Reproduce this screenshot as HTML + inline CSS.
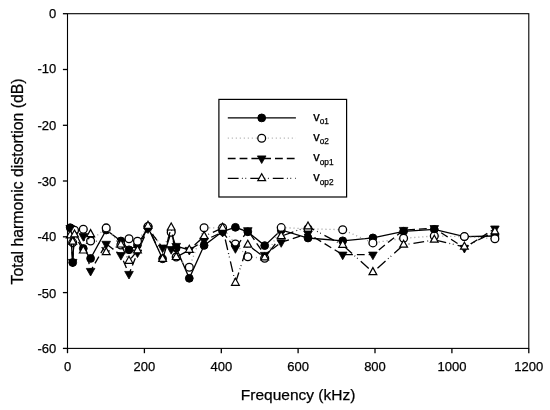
<!DOCTYPE html><html><head><meta charset="utf-8"><title>Total harmonic distortion</title>
<style>html,body{margin:0;padding:0;background:#fff}body{width:550px;height:410px;overflow:hidden}svg{display:block}text{font-family:"Liberation Sans",sans-serif;fill:#000;stroke:#000;stroke-width:0.25px}</style></head><body>
<svg width="550" height="410" viewBox="0 0 550 410">
<rect width="550" height="410" fill="#fff"/>
<polyline points="70.2,227.7 72.7,262.5 74.5,231.0 83.3,248.5 90.6,258.4 106.2,230.0 120.9,241.0 129.0,249.8 137.5,245.0 148.0,227.5 162.6,258.8 171.2,232.0 176.2,248.0 189.3,278.3 204.1,245.4 222.6,231.5 235.4,227.3 247.8,231.8 264.7,245.6 281.2,230.0 308.0,238.0 342.7,240.8 372.9,237.9 403.6,231.3 434.3,229.4 464.4,236.6 494.9,236.0" fill="none" stroke="#000" stroke-width="1.3" />
<circle cx="70.2" cy="227.7" r="3.9" fill="#000" stroke="#000" stroke-width="1"/><circle cx="72.7" cy="262.5" r="3.9" fill="#000" stroke="#000" stroke-width="1"/><circle cx="74.5" cy="231.0" r="3.9" fill="#000" stroke="#000" stroke-width="1"/><circle cx="83.3" cy="248.5" r="3.9" fill="#000" stroke="#000" stroke-width="1"/><circle cx="90.6" cy="258.4" r="3.9" fill="#000" stroke="#000" stroke-width="1"/><circle cx="106.2" cy="230.0" r="3.9" fill="#000" stroke="#000" stroke-width="1"/><circle cx="120.9" cy="241.0" r="3.9" fill="#000" stroke="#000" stroke-width="1"/><circle cx="129.0" cy="249.8" r="3.9" fill="#000" stroke="#000" stroke-width="1"/><circle cx="137.5" cy="245.0" r="3.9" fill="#000" stroke="#000" stroke-width="1"/><circle cx="148.0" cy="227.5" r="3.9" fill="#000" stroke="#000" stroke-width="1"/><circle cx="162.6" cy="258.8" r="3.9" fill="#000" stroke="#000" stroke-width="1"/><circle cx="171.2" cy="232.0" r="3.9" fill="#000" stroke="#000" stroke-width="1"/><circle cx="176.2" cy="248.0" r="3.9" fill="#000" stroke="#000" stroke-width="1"/><circle cx="189.3" cy="278.3" r="3.9" fill="#000" stroke="#000" stroke-width="1"/><circle cx="204.1" cy="245.4" r="3.9" fill="#000" stroke="#000" stroke-width="1"/><circle cx="222.6" cy="231.5" r="3.9" fill="#000" stroke="#000" stroke-width="1"/><circle cx="235.4" cy="227.3" r="3.9" fill="#000" stroke="#000" stroke-width="1"/><circle cx="247.8" cy="231.8" r="3.9" fill="#000" stroke="#000" stroke-width="1"/><circle cx="264.7" cy="245.6" r="3.9" fill="#000" stroke="#000" stroke-width="1"/><circle cx="281.2" cy="230.0" r="3.9" fill="#000" stroke="#000" stroke-width="1"/><circle cx="308.0" cy="238.0" r="3.9" fill="#000" stroke="#000" stroke-width="1"/><circle cx="342.7" cy="240.8" r="3.9" fill="#000" stroke="#000" stroke-width="1"/><circle cx="372.9" cy="237.9" r="3.9" fill="#000" stroke="#000" stroke-width="1"/><circle cx="403.6" cy="231.3" r="3.9" fill="#000" stroke="#000" stroke-width="1"/><circle cx="434.3" cy="229.4" r="3.9" fill="#000" stroke="#000" stroke-width="1"/><circle cx="464.4" cy="236.6" r="3.9" fill="#000" stroke="#000" stroke-width="1"/><circle cx="494.9" cy="236.0" r="3.9" fill="#000" stroke="#000" stroke-width="1"/>
<polyline points="72.7,242.6 74.5,230.3 83.3,229.3 90.6,241.0 106.2,227.9 120.9,245.0 129.0,238.8 137.5,241.2 148.0,226.5 162.6,248.0 171.2,232.3 176.2,257.0 189.3,267.2 204.1,227.8 222.6,227.8 235.4,244.0 247.8,256.8 264.7,258.3 281.2,227.6 308.0,228.8 342.7,229.7 372.9,242.9 403.6,238.3 434.3,236.0 464.4,236.6 494.9,238.8" fill="none" stroke="#999" stroke-width="1.3" stroke-dasharray="1 3"/>
<circle cx="72.7" cy="242.6" r="3.9" fill="#fff" stroke="#000" stroke-width="1.3"/><circle cx="74.5" cy="230.3" r="3.9" fill="#fff" stroke="#000" stroke-width="1.3"/><circle cx="83.3" cy="229.3" r="3.9" fill="#fff" stroke="#000" stroke-width="1.3"/><circle cx="90.6" cy="241.0" r="3.9" fill="#fff" stroke="#000" stroke-width="1.3"/><circle cx="106.2" cy="227.9" r="3.9" fill="#fff" stroke="#000" stroke-width="1.3"/><circle cx="120.9" cy="245.0" r="3.9" fill="#fff" stroke="#000" stroke-width="1.3"/><circle cx="129.0" cy="238.8" r="3.9" fill="#fff" stroke="#000" stroke-width="1.3"/><circle cx="137.5" cy="241.2" r="3.9" fill="#fff" stroke="#000" stroke-width="1.3"/><circle cx="148.0" cy="226.5" r="3.9" fill="#fff" stroke="#000" stroke-width="1.3"/><circle cx="171.2" cy="232.3" r="3.9" fill="#fff" stroke="#000" stroke-width="1.3"/><circle cx="176.2" cy="257.0" r="3.9" fill="#fff" stroke="#000" stroke-width="1.3"/><circle cx="189.3" cy="267.2" r="3.9" fill="#fff" stroke="#000" stroke-width="1.3"/><circle cx="204.1" cy="227.8" r="3.9" fill="#fff" stroke="#000" stroke-width="1.3"/><circle cx="222.6" cy="227.8" r="3.9" fill="#fff" stroke="#000" stroke-width="1.3"/><circle cx="235.4" cy="244.0" r="3.9" fill="#fff" stroke="#000" stroke-width="1.3"/><circle cx="247.8" cy="256.8" r="3.9" fill="#fff" stroke="#000" stroke-width="1.3"/><circle cx="264.7" cy="258.3" r="3.9" fill="#fff" stroke="#000" stroke-width="1.3"/><circle cx="281.2" cy="227.6" r="3.9" fill="#fff" stroke="#000" stroke-width="1.3"/><circle cx="308.0" cy="228.8" r="3.9" fill="#fff" stroke="#000" stroke-width="1.3"/><circle cx="342.7" cy="229.7" r="3.9" fill="#fff" stroke="#000" stroke-width="1.3"/><circle cx="372.9" cy="242.9" r="3.9" fill="#fff" stroke="#000" stroke-width="1.3"/><circle cx="403.6" cy="238.3" r="3.9" fill="#fff" stroke="#000" stroke-width="1.3"/><circle cx="434.3" cy="236.0" r="3.9" fill="#fff" stroke="#000" stroke-width="1.3"/><circle cx="464.4" cy="236.6" r="3.9" fill="#fff" stroke="#000" stroke-width="1.3"/><circle cx="494.9" cy="238.8" r="3.9" fill="#fff" stroke="#000" stroke-width="1.3"/>
<polyline points="70.2,228.2 72.7,262.0 74.5,232.0 83.3,236.2 90.6,271.0 106.2,243.9 120.9,255.1 129.0,274.0 137.5,252.6 148.0,228.5 162.6,247.7 171.2,249.2 176.2,246.0 189.3,250.0 204.1,240.6 222.6,232.0 235.4,248.3 247.8,230.3 264.7,255.0 281.2,242.3 308.0,233.6 342.7,254.7 372.9,254.7 403.6,230.0 434.3,228.2 464.4,248.0 494.9,228.6" fill="none" stroke="#000" stroke-width="1.3" stroke-dasharray="7.8 4"/>
<path d="M65.9 225.6H74.5L70.2 233.2Z" fill="#000" stroke="#000" stroke-width="0.8"/><path d="M68.4 259.4H77.0L72.7 267.0Z" fill="#000" stroke="#000" stroke-width="0.8"/><path d="M79.0 233.6H87.6L83.3 241.2Z" fill="#000" stroke="#000" stroke-width="0.8"/><path d="M86.3 268.4H94.9L90.6 276.0Z" fill="#000" stroke="#000" stroke-width="0.8"/><path d="M101.9 241.3H110.5L106.2 248.9Z" fill="#000" stroke="#000" stroke-width="0.8"/><path d="M116.6 252.5H125.2L120.9 260.1Z" fill="#000" stroke="#000" stroke-width="0.8"/><path d="M124.7 271.4H133.3L129.0 279.0Z" fill="#000" stroke="#000" stroke-width="0.8"/><path d="M133.2 250.0H141.8L137.5 257.6Z" fill="#000" stroke="#000" stroke-width="0.8"/><path d="M143.7 225.9H152.3L148.0 233.5Z" fill="#000" stroke="#000" stroke-width="0.8"/><path d="M158.3 245.1H166.9L162.6 252.7Z" fill="#000" stroke="#000" stroke-width="0.8"/><path d="M166.9 246.6H175.5L171.2 254.2Z" fill="#000" stroke="#000" stroke-width="0.8"/><path d="M171.9 243.4H180.5L176.2 251.0Z" fill="#000" stroke="#000" stroke-width="0.8"/><path d="M185.0 247.4H193.6L189.3 255.0Z" fill="#000" stroke="#000" stroke-width="0.8"/><path d="M199.8 238.0H208.4L204.1 245.6Z" fill="#000" stroke="#000" stroke-width="0.8"/><path d="M218.3 229.4H226.9L222.6 237.0Z" fill="#000" stroke="#000" stroke-width="0.8"/><path d="M231.1 245.7H239.7L235.4 253.3Z" fill="#000" stroke="#000" stroke-width="0.8"/><path d="M243.5 227.7H252.1L247.8 235.3Z" fill="#000" stroke="#000" stroke-width="0.8"/><path d="M260.4 252.4H269.0L264.7 260.0Z" fill="#000" stroke="#000" stroke-width="0.8"/><path d="M276.9 239.7H285.5L281.2 247.3Z" fill="#000" stroke="#000" stroke-width="0.8"/><path d="M303.7 231.0H312.3L308.0 238.6Z" fill="#000" stroke="#000" stroke-width="0.8"/><path d="M338.4 252.1H347.0L342.7 259.7Z" fill="#000" stroke="#000" stroke-width="0.8"/><path d="M368.6 252.1H377.2L372.9 259.7Z" fill="#000" stroke="#000" stroke-width="0.8"/><path d="M399.3 227.4H407.9L403.6 235.0Z" fill="#000" stroke="#000" stroke-width="0.8"/><path d="M430.0 225.6H438.6L434.3 233.2Z" fill="#000" stroke="#000" stroke-width="0.8"/><path d="M460.1 245.4H468.7L464.4 253.0Z" fill="#000" stroke="#000" stroke-width="0.8"/><path d="M490.6 226.0H499.2L494.9 233.6Z" fill="#000" stroke="#000" stroke-width="0.8"/>
<polyline points="70.2,235.5 72.7,241.8 74.5,234.6 83.3,250.7 90.6,234.3 106.2,252.4 120.9,244.7 129.0,261.0 137.5,250.5 148.0,226.0 162.6,259.0 171.2,227.7 176.2,257.2 189.3,250.0 204.1,236.3 222.6,228.0 235.4,283.0 247.8,244.9 264.7,257.6 281.2,236.2 308.0,226.6 342.7,245.0 372.9,272.3 403.6,244.9 434.3,239.9 464.4,246.9 494.9,231.6" fill="none" stroke="#000" stroke-width="1.3" stroke-dasharray="10.8 3.3 0.8 2.7 0.8 4.1"/>
<path d="M66.3 237.8H74.1L70.2 230.8Z" fill="#fff" stroke="#000" stroke-width="1.2"/><path d="M68.8 244.1H76.6L72.7 237.1Z" fill="#fff" stroke="#000" stroke-width="1.2"/><path d="M70.6 236.9H78.4L74.5 229.9Z" fill="#fff" stroke="#000" stroke-width="1.2"/><path d="M79.4 253.0H87.2L83.3 246.0Z" fill="#fff" stroke="#000" stroke-width="1.2"/><path d="M86.7 236.6H94.5L90.6 229.6Z" fill="#fff" stroke="#000" stroke-width="1.2"/><path d="M102.3 254.7H110.1L106.2 247.7Z" fill="#fff" stroke="#000" stroke-width="1.2"/><path d="M117.0 247.0H124.8L120.9 240.0Z" fill="#fff" stroke="#000" stroke-width="1.2"/><path d="M125.1 263.3H132.9L129.0 256.3Z" fill="#fff" stroke="#000" stroke-width="1.2"/><path d="M133.6 252.8H141.4L137.5 245.8Z" fill="#fff" stroke="#000" stroke-width="1.2"/><path d="M144.1 228.3H151.9L148.0 221.3Z" fill="#fff" stroke="#000" stroke-width="1.2"/><path d="M158.7 261.3H166.5L162.6 254.3Z" fill="#fff" stroke="#000" stroke-width="1.2"/><path d="M167.3 230.0H175.1L171.2 223.0Z" fill="#fff" stroke="#000" stroke-width="1.2"/><path d="M172.3 259.5H180.1L176.2 252.5Z" fill="#fff" stroke="#000" stroke-width="1.2"/><path d="M185.4 252.3H193.2L189.3 245.3Z" fill="#fff" stroke="#000" stroke-width="1.2"/><path d="M200.2 238.6H208.0L204.1 231.6Z" fill="#fff" stroke="#000" stroke-width="1.2"/><path d="M218.7 230.3H226.5L222.6 223.3Z" fill="#fff" stroke="#000" stroke-width="1.2"/><path d="M231.5 285.3H239.3L235.4 278.3Z" fill="#fff" stroke="#000" stroke-width="1.2"/><path d="M243.9 247.2H251.7L247.8 240.2Z" fill="#fff" stroke="#000" stroke-width="1.2"/><path d="M260.8 259.9H268.6L264.7 252.9Z" fill="#fff" stroke="#000" stroke-width="1.2"/><path d="M277.3 238.5H285.1L281.2 231.5Z" fill="#fff" stroke="#000" stroke-width="1.2"/><path d="M304.1 228.9H311.9L308.0 221.9Z" fill="#fff" stroke="#000" stroke-width="1.2"/><path d="M338.8 247.3H346.6L342.7 240.3Z" fill="#fff" stroke="#000" stroke-width="1.2"/><path d="M369.0 274.6H376.8L372.9 267.6Z" fill="#fff" stroke="#000" stroke-width="1.2"/><path d="M399.7 247.2H407.5L403.6 240.2Z" fill="#fff" stroke="#000" stroke-width="1.2"/><path d="M430.4 242.2H438.2L434.3 235.2Z" fill="#fff" stroke="#000" stroke-width="1.2"/><path d="M460.5 249.2H468.3L464.4 242.2Z" fill="#fff" stroke="#000" stroke-width="1.2"/><path d="M491.0 233.9H498.8L494.9 226.9Z" fill="#fff" stroke="#000" stroke-width="1.2"/>
<rect x="67.5" y="13.7" width="461.3" height="334.7" fill="none" stroke="#000" stroke-width="1.1"/>
<line x1="67.5" y1="348.4" x2="67.5" y2="353.2" stroke="#000" stroke-width="1.3"/>
<text x="67.5" y="371.3" font-size="13" text-anchor="middle">0</text>
<line x1="144.4" y1="348.4" x2="144.4" y2="353.2" stroke="#000" stroke-width="1.3"/>
<text x="144.4" y="371.3" font-size="13" text-anchor="middle">200</text>
<line x1="221.3" y1="348.4" x2="221.3" y2="353.2" stroke="#000" stroke-width="1.3"/>
<text x="221.3" y="371.3" font-size="13" text-anchor="middle">400</text>
<line x1="298.1" y1="348.4" x2="298.1" y2="353.2" stroke="#000" stroke-width="1.3"/>
<text x="298.1" y="371.3" font-size="13" text-anchor="middle">600</text>
<line x1="375.0" y1="348.4" x2="375.0" y2="353.2" stroke="#000" stroke-width="1.3"/>
<text x="375.0" y="371.3" font-size="13" text-anchor="middle">800</text>
<line x1="451.9" y1="348.4" x2="451.9" y2="353.2" stroke="#000" stroke-width="1.3"/>
<text x="451.9" y="371.3" font-size="13" text-anchor="middle">1000</text>
<line x1="528.8" y1="348.4" x2="528.8" y2="353.2" stroke="#000" stroke-width="1.3"/>
<text x="528.8" y="371.3" font-size="13" text-anchor="middle">1200</text>
<line x1="62.9" y1="13.7" x2="67.5" y2="13.7" stroke="#000" stroke-width="1.3"/>
<text x="56.3" y="17.6" font-size="13" text-anchor="end">0</text>
<line x1="62.9" y1="69.5" x2="67.5" y2="69.5" stroke="#000" stroke-width="1.3"/>
<text x="56.3" y="73.3" font-size="13" text-anchor="end">-10</text>
<line x1="62.9" y1="125.3" x2="67.5" y2="125.3" stroke="#000" stroke-width="1.3"/>
<text x="56.3" y="130.0" font-size="13" text-anchor="end">-20</text>
<line x1="62.9" y1="181.0" x2="67.5" y2="181.0" stroke="#000" stroke-width="1.3"/>
<text x="56.3" y="185.5" font-size="13" text-anchor="end">-30</text>
<line x1="62.9" y1="236.8" x2="67.5" y2="236.8" stroke="#000" stroke-width="1.3"/>
<text x="56.3" y="241.3" font-size="13" text-anchor="end">-40</text>
<line x1="62.9" y1="292.6" x2="67.5" y2="292.6" stroke="#000" stroke-width="1.3"/>
<text x="56.3" y="297.5" font-size="13" text-anchor="end">-50</text>
<line x1="62.9" y1="348.4" x2="67.5" y2="348.4" stroke="#000" stroke-width="1.3"/>
<text x="56.3" y="353.1" font-size="13" text-anchor="end">-60</text>
<text x="298.1" y="400" font-size="15.5" text-anchor="middle">Frequency (kHz)</text>
<text transform="translate(23.2 181.4) rotate(-90)" font-size="15.85" text-anchor="middle">Total harmonic distortion (dB)</text>
<rect x="218.9" y="99.4" width="127.7" height="97.6" fill="#fff" stroke="#000" stroke-width="1.2"/>
<line x1="227.8" y1="117.9" x2="295.9" y2="117.9" stroke="#000" stroke-width="1.3"/><circle cx="261.7" cy="117.9" r="3.9" fill="#000" stroke="#000" stroke-width="1"/>
<line x1="227.8" y1="138.2" x2="295.9" y2="138.2" stroke="#aaa" stroke-width="1.3" stroke-dasharray="1 3"/><circle cx="261.7" cy="138.2" r="3.9" fill="#fff" stroke="#000" stroke-width="1.3"/>
<line x1="227.8" y1="158.5" x2="295.9" y2="158.5" stroke="#000" stroke-width="1.3" stroke-dasharray="7.8 4"/><path d="M257.4 155.9H266.0L261.7 163.5Z" fill="#000" stroke="#000" stroke-width="0.8"/>
<line x1="227.8" y1="178.4" x2="295.9" y2="178.4" stroke="#000" stroke-width="1.3" stroke-dasharray="10.8 3.3 0.8 2.7 0.8 4.1"/><path d="M257.8 180.7H265.6L261.7 173.7Z" fill="#fff" stroke="#000" stroke-width="1.2"/>
<text x="313.2" y="120.6" font-size="13">v<tspan font-size="8.3" dy="3.4">o1</tspan></text>
<text x="313.2" y="140.9" font-size="13">v<tspan font-size="8.3" dy="3.4">o2</tspan></text>
<text x="313.2" y="161.2" font-size="13">v<tspan font-size="8.3" dy="3.4">op1</tspan></text>
<text x="313.2" y="181.1" font-size="13">v<tspan font-size="8.3" dy="3.4">op2</tspan></text>
</svg></body></html>
